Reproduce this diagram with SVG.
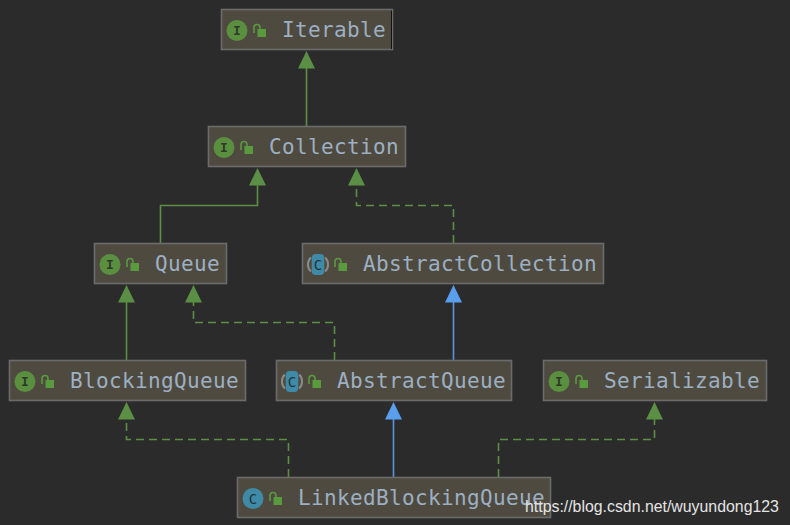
<svg xmlns="http://www.w3.org/2000/svg" width="790" height="525" viewBox="0 0 790 525">
<style>
.box{fill:#4e4a40;stroke:#6b6b6b;stroke-width:1.6}
.name{font-family:"DejaVu Sans Mono",monospace;font-size:21px;letter-spacing:.36px;fill:#9dafc2}
.ci{fill:#5a8f3f}
.cc{fill:#3f8aa6}
.gl{font-family:"DejaVu Sans Mono",monospace;font-size:13px;font-weight:bold;text-anchor:middle;fill:#2f3a2a}
.glc{font-family:"DejaVu Sans Mono",monospace;font-size:14px;text-anchor:middle;fill:#22343c}
.lock{fill:#5a9a3f}
.shack{fill:none;stroke:#5a9a3f;stroke-width:1.6}
.g{fill:none;stroke:#5a8f45;stroke-width:1.6}
.d{fill:none;stroke:#5a8f45;stroke-width:1.6;stroke-dasharray:8 5}
.b{fill:none;stroke:#5a96dc;stroke-width:1.6}
.ag{fill:#5a8f45}
.ab{fill:#5a9eee}
.wing{fill:none;stroke:#8a8a8a;stroke-width:2}
</style>
<defs>
<g id="lk"><path class="shack" d="M0.5 4V-1.500a3 3 0 0 1 6 0V1"/><rect class="lock" x="4" y="0" width="8.500" height="8"/></g>
<g id="iI"><circle class="ci" r="10.500"/><text class="gl" y="4.500">I</text></g>
<g id="iC"><circle class="cc" r="10.500"/><text class="glc" y="5">C</text></g>
<g id="iA"><path class="wing" d="M-7.200 -7A10 10 0 0 0 -7.200 7M7.200 -7A10 10 0 0 1 7.200 7"/><rect class="cc" x="-6.300" y="-10.500" width="12.600" height="21" rx="4"/><text class="glc" y="5">C</text></g>
</defs>
<rect width="790" height="525" fill="#2b2b2b"/>
<g id="connectors">
<path class="g" d="M306.500 126V66"/><path class="ag" d="M306.500 51l8.500 17.500h-17z"/>
<path class="g" d="M160.500 243V205.500H257.500V184"/><path class="ag" d="M257.500 168l8.500 17.500h-17z"/>
<path class="d" d="M453.500 243V205.500H356.500V184"/><path class="ag" d="M356.500 168l8.500 17.500h-17z"/>
<path class="g" d="M126.500 360V301"/><path class="ag" d="M126.500 285l8.500 17.500h-17z"/>
<path class="d" d="M334.500 360V322.500H193.500V301"/><path class="ag" d="M193.500 285l8.500 17.500h-17z"/>
<path class="b" d="M453.500 360V301"/><path class="ab" d="M453.500 285l8.500 17.500h-17z"/>
<path class="d" d="M288.500 477V439.500H126.500V418"/><path class="ag" d="M126.500 402l8.500 17.500h-17z"/>
<path class="b" d="M393.500 477V418"/><path class="ab" d="M393.500 402l8.500 17.500h-17z"/>
<path class="d" d="M498.500 477V439.500H654.500V418"/><path class="ag" d="M654.500 402l8.500 17.500h-17z"/>
</g>
<g id="Iterable"><rect class="box" x="221.500" y="9.500" width="171" height="40"/><path d="M391.500 10.500V49" stroke="#111" stroke-width="1" fill="none"/><use href="#iI" x="237" y="30.500"/><use href="#lk" x="253.500" y="29"/><text class="name" x="282" y="37">Iterable</text></g>
<g id="Collection"><rect class="box" x="208.500" y="126.500" width="197" height="40"/><use href="#iI" x="224" y="147.500"/><use href="#lk" x="240.500" y="146"/><text class="name" x="269" y="154">Collection</text></g>
<g id="Queue"><rect class="box" x="94.500" y="243.500" width="132" height="40"/><use href="#iI" x="110" y="264.500"/><use href="#lk" x="126.500" y="263"/><text class="name" x="155" y="271">Queue</text></g>
<g id="AbstractCollection"><rect class="box" x="302.500" y="243.500" width="301" height="40"/><use href="#iA" x="318" y="264.500"/><use href="#lk" x="334.500" y="263"/><text class="name" x="363" y="271">AbstractCollection</text></g>
<g id="BlockingQueue"><rect class="box" x="9.500" y="360.500" width="236" height="40"/><use href="#iI" x="25" y="381.500"/><use href="#lk" x="41.500" y="380"/><text class="name" x="70" y="388">BlockingQueue</text></g>
<g id="AbstractQueue"><rect class="box" x="276.500" y="360.500" width="235" height="40"/><use href="#iA" x="292" y="381.500"/><use href="#lk" x="308.500" y="380"/><text class="name" x="337" y="388">AbstractQueue</text></g>
<g id="Serializable"><rect class="box" x="543.500" y="360.500" width="223" height="40"/><use href="#iI" x="559" y="381.500"/><use href="#lk" x="575.500" y="380"/><text class="name" x="604" y="388">Serializable</text></g>
<g id="LinkedBlockingQueue"><rect class="box" x="237.500" y="477.500" width="313" height="40"/><use href="#iC" x="253" y="498.500"/><use href="#lk" x="269.500" y="497"/><text class="name" x="298" y="505">LinkedBlockingQueue</text></g>
<text x="525" y="512" font-family="Liberation Sans,Arial,sans-serif" font-size="15.870" fill="#e4e4e4">https://blog.csdn.net/wuyundong123</text>
</svg>
